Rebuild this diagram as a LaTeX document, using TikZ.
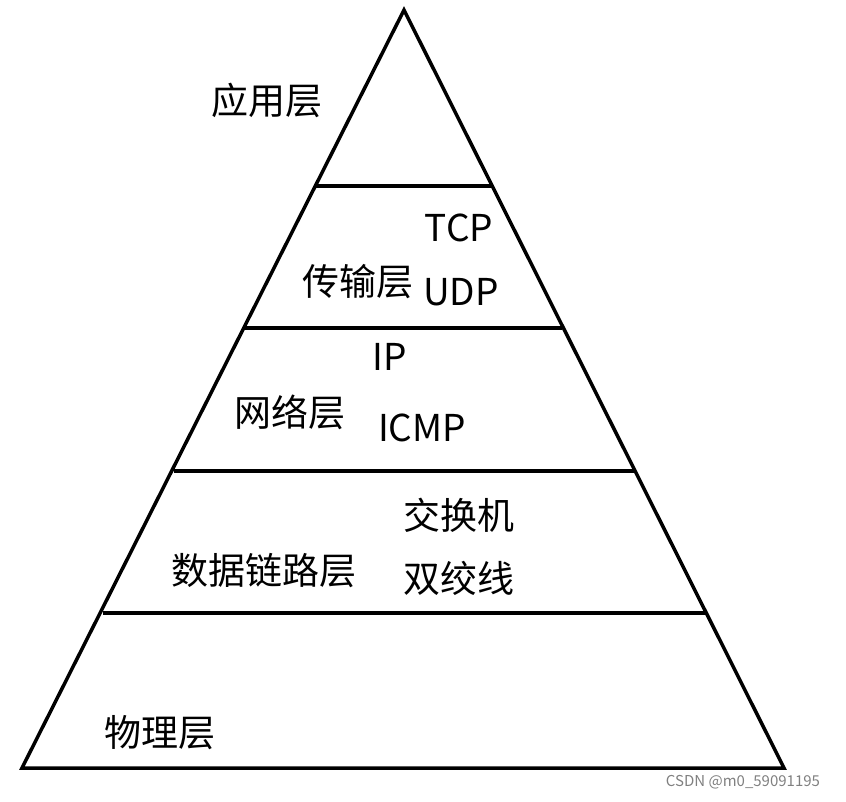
\documentclass[tikz,border=0pt]{standalone}
\usepackage{fontspec}
\setmainfont{Noto Sans CJK SC}
\begin{document}
\begin{tikzpicture}[x=1pt,y=-1pt,
  edge/.style={line width=3.5pt,line join=miter},
  lbl/.style={font=\fontsize{37}{39}\selectfont,inner sep=0pt}]
\useasboundingbox (0,0) rectangle (846,801);
\coordinate (top) at (404,10);
\coordinate (bl) at (22,768);
\coordinate (br) at (784,768);
\draw[edge] (top) -- (br) -- (bl) -- cycle;
\coordinate (a1) at (316,186); \coordinate (a2) at (491,186);
\coordinate (b1) at (245,328); \coordinate (b2) at (562,328);
\coordinate (c1) at (174,471); \coordinate (c2) at (634,471);
\coordinate (d1) at (103,613); \coordinate (d2) at (706,613);
\draw[edge] (a1) -- (a2);
\draw[edge] (b1) -- (b2);
\draw[edge] (c1) -- (c2);
\draw[edge] (d1) -- (d2);
\node[lbl] (n1) at (267,100) {应用层};
\node[lbl] (n2) at (459,228) {TCP};
\node[lbl] (n3) at (461,292) {UDP};
\node[lbl] (n4) at (358,282) {传输层};
\node[lbl] (n5) at (390,357) {IP};
\node[lbl] (n6) at (422,428) {ICMP};
\node[lbl] (n7) at (290,412) {网络层};
\node[lbl] (n8) at (459,515) {交换机};
\node[lbl] (n9) at (459,578) {双绞线};
\node[lbl] (n10) at (264,571) {数据链路层};
\node[lbl] (n11) at (160,733) {物理层};
\node[font=\fontsize{15}{16}\selectfont,text=gray,inner sep=0pt] (wm) at (743,782) {CSDN @m0\_59091195};
\end{tikzpicture}
\end{document}
